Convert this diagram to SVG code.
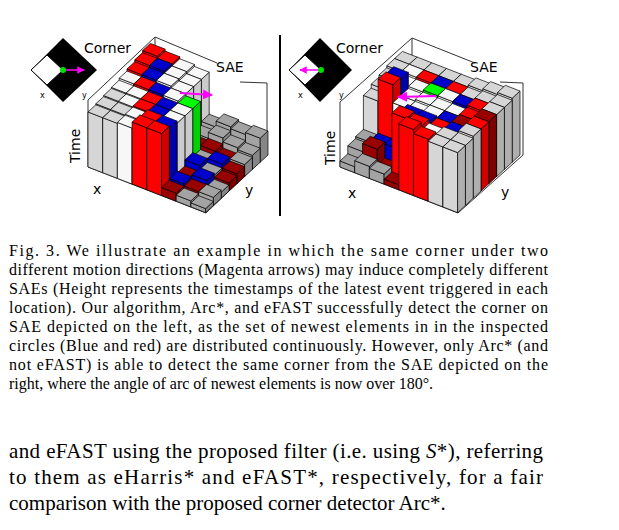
<svg xmlns="http://www.w3.org/2000/svg" xmlns:xlink="http://www.w3.org/1999/xlink" width="619" height="530" viewBox="0 0 619 530">
<style>
.f{fill:var(--c);stroke:#000;stroke-width:0.7px;vector-effect:non-scaling-stroke}
#k .ft{transform:translateY(calc(var(--h) * -1px))}
#k .fa{transform:matrix(14.7,5.7,0,calc(var(--h) * -1),0,0)}
#k .fb{transform:matrix(7.8,-7.2,0,calc(var(--h) * -1),14.7,5.7);filter:brightness(0.82)}
.l{--c:#d6d6d6}.w{--c:#f7f7f7}.g{--c:#a3a3a3}.r{--c:#ff0000}.b{--c:#0000cc}.d{--c:#990000}.G{--c:#00ff00}
.ax{fill:none;stroke:#333;stroke-width:1}
.lab{font-family:"DejaVu Sans",sans-serif;font-size:14px;fill:#000}
.sm{font-family:"DejaVu Sans",sans-serif;font-size:8px;fill:#000}
.cap{font-family:"Liberation Serif",serif;font-size:16px;fill:#000}
.big{font-family:"Liberation Serif",serif;font-size:21px;fill:#000}
</style>
<defs>
<g id="k"><rect class="f fa" width="1" height="1"/><rect class="f fb" width="1" height="1"/><path class="f ft" d="M0,0 l14.7,5.7 l7.8,-7.2 l-14.7,-5.7z"/></g>
<marker id="m" viewBox="0 0 10 10" refX="9" refY="5" markerWidth="5" markerHeight="5" orient="auto"><path d="M0,0L10,5L0,10z" fill="#ff00ff"/></marker>
</defs>
<rect width="619" height="530" fill="#fff"/>
<line x1="280" y1="35" x2="280" y2="216" stroke="#000" stroke-width="2"/>

<g id="left-chart">
<polyline class="ax" points="88,167 88,100 155,37 155,108 88,167"/>
<polyline class="ax" points="155,37 217,63"/><polyline class="ax" points="240,82 267,83 267,155 206,213 88,167"/>
<g transform="translate(88,167)">
<g><use xlink:href="#k" x="54.6" y="-50.4" class="r" style="--h:66"/><use xlink:href="#k" x="46.8" y="-43.2" class="r" style="--h:64"/><use xlink:href="#k" x="39" y="-36" class="r" style="--h:62"/><use xlink:href="#k" x="31.2" y="-28.8" class="w" style="--h:60"/><use xlink:href="#k" x="23.4" y="-21.6" class="w" style="--h:58"/><use xlink:href="#k" x="15.6" y="-14.4" class="l" style="--h:57"/><use xlink:href="#k" x="7.8" y="-7.2" class="l" style="--h:56"/><use xlink:href="#k" x="0" y="0" class="l" style="--h:55"/></g>
<g transform="translate(14.7,5.7)"><use xlink:href="#k" x="54.6" y="-50.4" class="r" style="--h:64"/><use xlink:href="#k" x="46.8" y="-43.2" class="b" style="--h:64"/><use xlink:href="#k" x="39" y="-36" class="b" style="--h:62"/><use xlink:href="#k" x="31.2" y="-28.8" class="r" style="--h:60"/><use xlink:href="#k" x="23.4" y="-21.6" class="w" style="--h:58"/><use xlink:href="#k" x="15.6" y="-14.4" class="w" style="--h:57"/><use xlink:href="#k" x="7.8" y="-7.2" class="l" style="--h:56"/><use xlink:href="#k" x="0" y="0" class="l" style="--h:55"/></g>
<g transform="translate(29.4,11.4)"><use xlink:href="#k" x="54.6" y="-50.4" class="w" style="--h:62"/><use xlink:href="#k" x="46.8" y="-43.2" class="w" style="--h:62"/><use xlink:href="#k" x="39" y="-36" class="w" style="--h:62"/><use xlink:href="#k" x="31.2" y="-28.8" class="b" style="--h:60"/><use xlink:href="#k" x="23.4" y="-21.6" class="r" style="--h:58"/><use xlink:href="#k" x="15.6" y="-14.4" class="r" style="--h:58"/><use xlink:href="#k" x="7.8" y="-7.2" class="w" style="--h:57"/><use xlink:href="#k" x="0" y="0" class="w" style="--h:56"/></g>
<g transform="translate(44.1,17.1)"><use xlink:href="#k" x="54.6" y="-50.4" class="w" style="--h:60"/><use xlink:href="#k" x="46.8" y="-43.2" class="w" style="--h:60"/><use xlink:href="#k" x="39" y="-36" class="w" style="--h:60"/><use xlink:href="#k" x="31.2" y="-28.8" class="w" style="--h:60"/><use xlink:href="#k" x="23.4" y="-21.6" class="b" style="--h:58"/><use xlink:href="#k" x="15.6" y="-14.4" class="b" style="--h:58"/><use xlink:href="#k" x="7.8" y="-7.2" class="r" style="--h:60"/><use xlink:href="#k" x="0" y="0" class="r" style="--h:62"/></g>
<g transform="translate(58.8,22.8)"><use xlink:href="#k" x="54.6" y="-50.4" class="g" style="--h:18"/><use xlink:href="#k" x="46.8" y="-43.2" class="g" style="--h:14"/><use xlink:href="#k" x="39" y="-36" class="d" style="--h:12"/><use xlink:href="#k" x="31.2" y="-28.8" class="G" style="--h:58"/><use xlink:href="#k" x="23.4" y="-21.6" class="w" style="--h:58"/><use xlink:href="#k" x="15.6" y="-14.4" class="w" style="--h:58"/><use xlink:href="#k" x="7.8" y="-7.2" class="b" style="--h:60"/><use xlink:href="#k" x="0" y="0" class="r" style="--h:62"/></g>
<g transform="translate(73.5,28.5)"><use xlink:href="#k" x="54.6" y="-50.4" class="g" style="--h:24"/><use xlink:href="#k" x="46.8" y="-43.2" class="g" style="--h:20"/><use xlink:href="#k" x="39" y="-36" class="d" style="--h:14"/><use xlink:href="#k" x="31.2" y="-28.8" class="g" style="--h:10"/><use xlink:href="#k" x="23.4" y="-21.6" class="b" style="--h:14"/><use xlink:href="#k" x="15.6" y="-14.4" class="d" style="--h:8"/><use xlink:href="#k" x="7.8" y="-7.2" class="b" style="--h:10"/><use xlink:href="#k" x="0" y="0" class="d" style="--h:8"/></g>
<g transform="translate(88.2,34.2)"><use xlink:href="#k" x="54.6" y="-50.4" class="g" style="--h:22"/><use xlink:href="#k" x="46.8" y="-43.2" class="g" style="--h:16"/><use xlink:href="#k" x="39" y="-36" class="d" style="--h:10"/><use xlink:href="#k" x="31.2" y="-28.8" class="b" style="--h:14"/><use xlink:href="#k" x="23.4" y="-21.6" class="g" style="--h:10"/><use xlink:href="#k" x="15.6" y="-14.4" class="b" style="--h:12"/><use xlink:href="#k" x="7.8" y="-7.2" class="d" style="--h:8"/><use xlink:href="#k" x="0" y="0" class="g" style="--h:6"/></g>
<g transform="translate(102.9,39.9)"><use xlink:href="#k" x="54.6" y="-50.4" class="g" style="--h:24"/><use xlink:href="#k" x="46.8" y="-43.2" class="g" style="--h:14"/><use xlink:href="#k" x="39" y="-36" class="g" style="--h:12"/><use xlink:href="#k" x="31.2" y="-28.8" class="d" style="--h:10"/><use xlink:href="#k" x="23.4" y="-21.6" class="d" style="--h:8"/><use xlink:href="#k" x="15.6" y="-14.4" class="g" style="--h:6"/><use xlink:href="#k" x="7.8" y="-7.2" class="g" style="--h:8"/><use xlink:href="#k" x="0" y="0" class="g" style="--h:4"/></g>
</g>
<line x1="180" y1="93" x2="212" y2="95" stroke="#ff00ff" stroke-width="2" marker-end="url(#m)"/>
<text class="lab" x="84" y="53">Corner</text><text class="lab" x="216" y="72">SAE</text>
<text class="lab" x="80" y="163" transform="rotate(-90 80 163)">Time</text>
<text class="lab" x="93" y="194">x</text><text class="lab" x="245" y="195">y</text>
</g>
<g id="left-inset">
<path d="M63,38 L97,70 L63,102 L31,70Z" fill="#000"/>
<path d="M31,70 L47,55 L63,70 L47,85Z" fill="#fff" stroke="#000"/>
<line x1="63" y1="70" x2="84" y2="70" stroke="#ff00ff" stroke-width="1.5" marker-end="url(#m)"/>
<circle cx="63" cy="70" r="3" fill="#00e000"/>
<text class="sm" x="40" y="98">x</text><text class="sm" x="82" y="98">y</text>
</g>

<g id="right-chart">
<polyline class="ax" points="340,167 340,102 412,38 412,108 340,167"/>
<polyline class="ax" points="412,38 475,63"/><polyline class="ax" points="500,82 523,83 523,155 458,213 340,167"/>
<g transform="translate(340,167)">
<g><use xlink:href="#k" x="54.6" y="-50.4" class="l" style="--h:58"/><use xlink:href="#k" x="46.8" y="-43.2" class="l" style="--h:58"/><use xlink:href="#k" x="39" y="-36" class="l" style="--h:56"/><use xlink:href="#k" x="31.2" y="-28.8" class="l" style="--h:54"/><use xlink:href="#k" x="23.4" y="-21.6" class="l" style="--h:50"/><use xlink:href="#k" x="15.6" y="-14.4" class="g" style="--h:16"/><use xlink:href="#k" x="7.8" y="-7.2" class="g" style="--h:14"/><use xlink:href="#k" x="0" y="0" class="g" style="--h:6"/></g>
<g transform="translate(14.7,5.7)"><use xlink:href="#k" x="54.6" y="-50.4" class="l" style="--h:58"/><use xlink:href="#k" x="46.8" y="-43.2" class="w" style="--h:58"/><use xlink:href="#k" x="39" y="-36" class="w" style="--h:56"/><use xlink:href="#k" x="31.2" y="-28.8" class="b" style="--h:70"/><use xlink:href="#k" x="23.4" y="-21.6" class="r" style="--h:72"/><use xlink:href="#k" x="15.6" y="-14.4" class="b" style="--h:18"/><use xlink:href="#k" x="7.8" y="-7.2" class="d" style="--h:22"/><use xlink:href="#k" x="0" y="0" class="g" style="--h:12"/></g>
<g transform="translate(29.4,11.4)"><use xlink:href="#k" x="54.6" y="-50.4" class="l" style="--h:58"/><use xlink:href="#k" x="46.8" y="-43.2" class="r" style="--h:58"/><use xlink:href="#k" x="39" y="-36" class="w" style="--h:56"/><use xlink:href="#k" x="31.2" y="-28.8" class="w" style="--h:54"/><use xlink:href="#k" x="23.4" y="-21.6" class="w" style="--h:54"/><use xlink:href="#k" x="15.6" y="-14.4" class="b" style="--h:20"/><use xlink:href="#k" x="7.8" y="-7.2" class="d" style="--h:6"/><use xlink:href="#k" x="0" y="0" class="g" style="--h:10"/></g>
<g transform="translate(44.1,17.1)"><use xlink:href="#k" x="54.6" y="-50.4" class="l" style="--h:58"/><use xlink:href="#k" x="46.8" y="-43.2" class="b" style="--h:58"/><use xlink:href="#k" x="39" y="-36" class="G" style="--h:58"/><use xlink:href="#k" x="31.2" y="-28.8" class="w" style="--h:56"/><use xlink:href="#k" x="23.4" y="-21.6" class="w" style="--h:54"/><use xlink:href="#k" x="15.6" y="-14.4" class="b" style="--h:58"/><use xlink:href="#k" x="7.8" y="-7.2" class="r" style="--h:64"/><use xlink:href="#k" x="0" y="0" class="d" style="--h:5"/></g>
<g transform="translate(58.8,22.8)"><use xlink:href="#k" x="54.6" y="-50.4" class="l" style="--h:58"/><use xlink:href="#k" x="46.8" y="-43.2" class="r" style="--h:58"/><use xlink:href="#k" x="39" y="-36" class="w" style="--h:58"/><use xlink:href="#k" x="31.2" y="-28.8" class="w" style="--h:56"/><use xlink:href="#k" x="23.4" y="-21.6" class="w" style="--h:56"/><use xlink:href="#k" x="15.6" y="-14.4" class="b" style="--h:58"/><use xlink:href="#k" x="7.8" y="-7.2" class="r" style="--h:62"/><use xlink:href="#k" x="0" y="0" class="r" style="--h:66"/></g>
<g transform="translate(73.5,28.5)"><use xlink:href="#k" x="54.6" y="-50.4" class="l" style="--h:60"/><use xlink:href="#k" x="46.8" y="-43.2" class="l" style="--h:58"/><use xlink:href="#k" x="39" y="-36" class="b" style="--h:58"/><use xlink:href="#k" x="31.2" y="-28.8" class="w" style="--h:56"/><use xlink:href="#k" x="23.4" y="-21.6" class="b" style="--h:56"/><use xlink:href="#k" x="15.6" y="-14.4" class="r" style="--h:56"/><use xlink:href="#k" x="7.8" y="-7.2" class="w" style="--h:58"/><use xlink:href="#k" x="0" y="0" class="r" style="--h:62"/></g>
<g transform="translate(88.2,34.2)"><use xlink:href="#k" x="54.6" y="-50.4" class="l" style="--h:62"/><use xlink:href="#k" x="46.8" y="-43.2" class="l" style="--h:60"/><use xlink:href="#k" x="39" y="-36" class="r" style="--h:60"/><use xlink:href="#k" x="31.2" y="-28.8" class="r" style="--h:58"/><use xlink:href="#k" x="23.4" y="-21.6" class="d" style="--h:58"/><use xlink:href="#k" x="15.6" y="-14.4" class="b" style="--h:58"/><use xlink:href="#k" x="7.8" y="-7.2" class="l" style="--h:60"/><use xlink:href="#k" x="0" y="0" class="l" style="--h:60"/></g>
<g transform="translate(102.9,39.9)"><use xlink:href="#k" x="54.6" y="-50.4" class="l" style="--h:64"/><use xlink:href="#k" x="46.8" y="-43.2" class="l" style="--h:62"/><use xlink:href="#k" x="39" y="-36" class="l" style="--h:62"/><use xlink:href="#k" x="31.2" y="-28.8" class="d" style="--h:62"/><use xlink:href="#k" x="23.4" y="-21.6" class="r" style="--h:62"/><use xlink:href="#k" x="15.6" y="-14.4" class="l" style="--h:62"/><use xlink:href="#k" x="7.8" y="-7.2" class="l" style="--h:60"/><use xlink:href="#k" x="0" y="0" class="l" style="--h:60"/></g>
</g>
<line x1="436" y1="96" x2="398" y2="97" stroke="#ff00ff" stroke-width="2" marker-end="url(#m)"/>
<text class="lab" x="336" y="53">Corner</text><text class="lab" x="470" y="72">SAE</text>
<text class="lab" x="335" y="165" transform="rotate(-90 335 165)">Time</text>
<text class="lab" x="348" y="198">x</text><text class="lab" x="501" y="197">y</text>
</g>
<g id="right-inset">
<path d="M320,38 L352,70 L320,102 L289,70Z" fill="#000"/>
<path d="M289,70 L305,55 L321,70 L305,85Z" fill="#fff" stroke="#000"/>
<line x1="320" y1="70" x2="300" y2="70" stroke="#ff00ff" stroke-width="1.5" marker-end="url(#m)"/>
<circle cx="321" cy="70" r="3" fill="#00e000"/>
<text class="sm" x="298" y="98">x</text><text class="sm" x="339" y="98">y</text>
</g>

<g id="caption">
<text class="cap" x="9" y="256" textLength="539" lengthAdjust="spacing">Fig. 3.   We illustrate an example in which the same corner under two</text>
<text class="cap" x="9" y="275" textLength="539" lengthAdjust="spacing">different motion directions (Magenta arrows) may induce completely different</text>
<text class="cap" x="9" y="294" textLength="539" lengthAdjust="spacing">SAEs (Height represents the timestamps of the latest event triggered in each</text>
<text class="cap" x="9" y="313" textLength="539" lengthAdjust="spacing">location). Our algorithm, Arc*, and eFAST successfully detect the corner on</text>
<text class="cap" x="9" y="332" textLength="539" lengthAdjust="spacing">SAE depicted on the left, as the set of newest elements in in the inspected</text>
<text class="cap" x="9" y="351" textLength="539" lengthAdjust="spacing">circles (Blue and red) are distributed continuously. However, only Arc* (and</text>
<text class="cap" x="9" y="370" textLength="539" lengthAdjust="spacing">not eFAST) is able to detect the same corner from the SAE depicted on the</text>
<text class="cap" x="9" y="389">right, where the angle of arc of newest elements is now over 180°.</text>
<text class="big" x="9" y="458" textLength="534" lengthAdjust="spacing">and eFAST using the proposed filter (i.e. using <tspan font-style="italic">S</tspan>*), referring</text>
<text class="big" x="9" y="484" textLength="534" lengthAdjust="spacing">to them as eHarris* and eFAST*, respectively, for a fair</text>
<text class="big" x="9" y="510">comparison with the proposed corner detector Arc*.</text>
</g>
</svg>
